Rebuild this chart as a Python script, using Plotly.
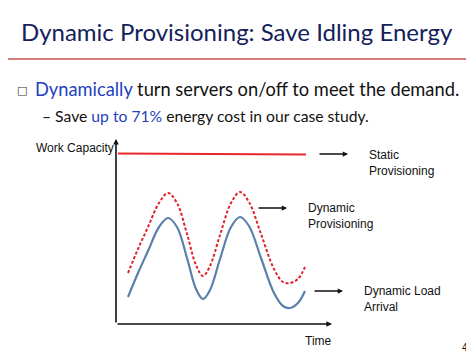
import plotly.graph_objects as go

# ---- data (time units, capacity units) ----
time_pts = [6, 11, 16, 21.5, 26, 30.5, 35.5, 40, 43.5, 47, 52, 57.5, 62, 66.5, 72.5, 79, 83.5, 87, 91, 94.5]
load_arrival = [13.5, 25.5, 36.5, 48.5, 53, 48.5, 33, 17.5, 12.5, 17, 32.5, 48.5, 53.5, 49, 33, 15.5, 9, 8, 10.5, 16.5]
dynamic_prov = [25.5, 37.5, 48.5, 60.5, 65.5, 60.5, 45, 29.5, 24, 29, 44.5, 60.5, 66, 61, 45, 27.5, 21, 20.5, 22.5, 28.5]
static_time = [1, 95]
static_prov = [85.3, 84.7]

title = "Dynamic Provisioning: Save Idling Energy"
OFF = 8                 # page body margin
W, H = 474 - OFF, 355 - OFF

def px(x):
    return (x - OFF) / W

def py(y):
    return 1 - (y - OFF) / H

fig = go.Figure()
fig.add_trace(go.Scatter(x=static_time, y=static_prov, mode="lines",
                         line=dict(color="#e8262b", width=2), hoverinfo="skip"))
fig.add_trace(go.Scatter(x=time_pts, y=dynamic_prov, mode="lines",
                         line=dict(color="#e0222a", width=2, dash="3px,2px", shape="spline", smoothing=1),
                         hoverinfo="skip"))
fig.add_trace(go.Scatter(x=time_pts, y=load_arrival, mode="lines",
                         line=dict(color="#5b80ab", width=2.2, shape="spline", smoothing=1),
                         hoverinfo="skip"))

ann = []
# axes with arrowheads
for (hx, hy) in [(108, 0), (0, 92.5)]:
    ann.append(dict(x=hx, y=hy, ax=0, ay=0, xref="x", yref="y", axref="x", ayref="y",
                    text="", showarrow=True, arrowhead=2, arrowsize=0.7, arrowwidth=1.6,
                    arrowcolor="#111", standoff=0, startstandoff=0))
# label arrows
for (tx, hx, yy) in [(101, 116, 85), (70.5, 85.5, 58), (98.5, 113.5, 16.5)]:
    ann.append(dict(x=hx, y=yy, ax=tx, ay=yy, xref="x", yref="y", axref="x", ayref="y",
                    text="", showarrow=True, arrowhead=2, arrowsize=0.7, arrowwidth=1.5,
                    arrowcolor="#111", standoff=0))

lab_font = dict(family="Liberation Sans, Arial", size=12, color="#111")
ann += [
    dict(x=px(34), y=py(148), text="Work Capacity", xanchor="left", yanchor="middle"),
    dict(x=px(367), y=py(163), text="Static<br>Provisioning", xanchor="left", yanchor="middle", align="left"),
    dict(x=px(306), y=py(216), text="Dynamic<br>Provisioning", xanchor="left", yanchor="middle", align="left"),
    dict(x=px(362), y=py(299), text="Dynamic Load<br>Arrival", xanchor="left", yanchor="middle", align="left"),
    dict(x=px(303), y=py(341), text="Time", xanchor="left", yanchor="middle"),
]
for a in ann[-5:]:
    a.update(xref="paper", yref="paper", showarrow=False, font=lab_font)

blue = "#1f3fbf"
ann += [
    dict(x=px(237), y=py(31), text=title, xanchor="center", yanchor="middle",
         xref="paper", yref="paper", showarrow=False,
         font=dict(family="Lato", size=24, color="#14215a")),
    dict(x=px(22), y=py(90), text="\u25a1", xanchor="center", yanchor="middle",
         xref="paper", yref="paper", showarrow=False,
         font=dict(family="DejaVu Sans", size=11, color="#333")),
    dict(x=px(33), y=py(89), text=f"<span style='color:{blue}'>Dynamically</span> turn servers on/off to meet the demand.",
         xanchor="left", yanchor="middle", xref="paper", yref="paper", showarrow=False,
         font=dict(family="Lato", size=18.3, color="#111")),
    dict(x=px(40), y=py(116), text=f"\u2013 Save <span style='color:{blue}'>up to 71%</span> energy cost in our case study.",
         xanchor="left", yanchor="middle", xref="paper", yref="paper", showarrow=False,
         font=dict(family="Lato", size=15.7, color="#111")),
    dict(x=px(465), y=py(347), text="4", xanchor="center", yanchor="middle",
         xref="paper", yref="paper", showarrow=False,
         font=dict(family="Liberation Sans, Arial", size=10, color="#111")),
]

x0_fig = 116 - OFF
y0_fig = 324 - OFF
fig.update_layout(
    width=W, height=H,
    margin=dict(l=0, r=0, t=0, b=0, pad=0),
    paper_bgcolor="white", plot_bgcolor="white",
    showlegend=False,
    xaxis=dict(range=[-x0_fig / 2, (W - x0_fig) / 2], visible=False, fixedrange=True),
    yaxis=dict(range=[-(H - y0_fig) / 2, y0_fig / 2], visible=False, fixedrange=True),
    annotations=ann,
    shapes=[dict(type="line", xref="paper", yref="paper", x0=0, x1=1, y0=py(59), y1=py(59),
                 line=dict(color="#c0504d", width=1.5))],
)

fig.write_html("out.html", config={"displayModeBar": False})
